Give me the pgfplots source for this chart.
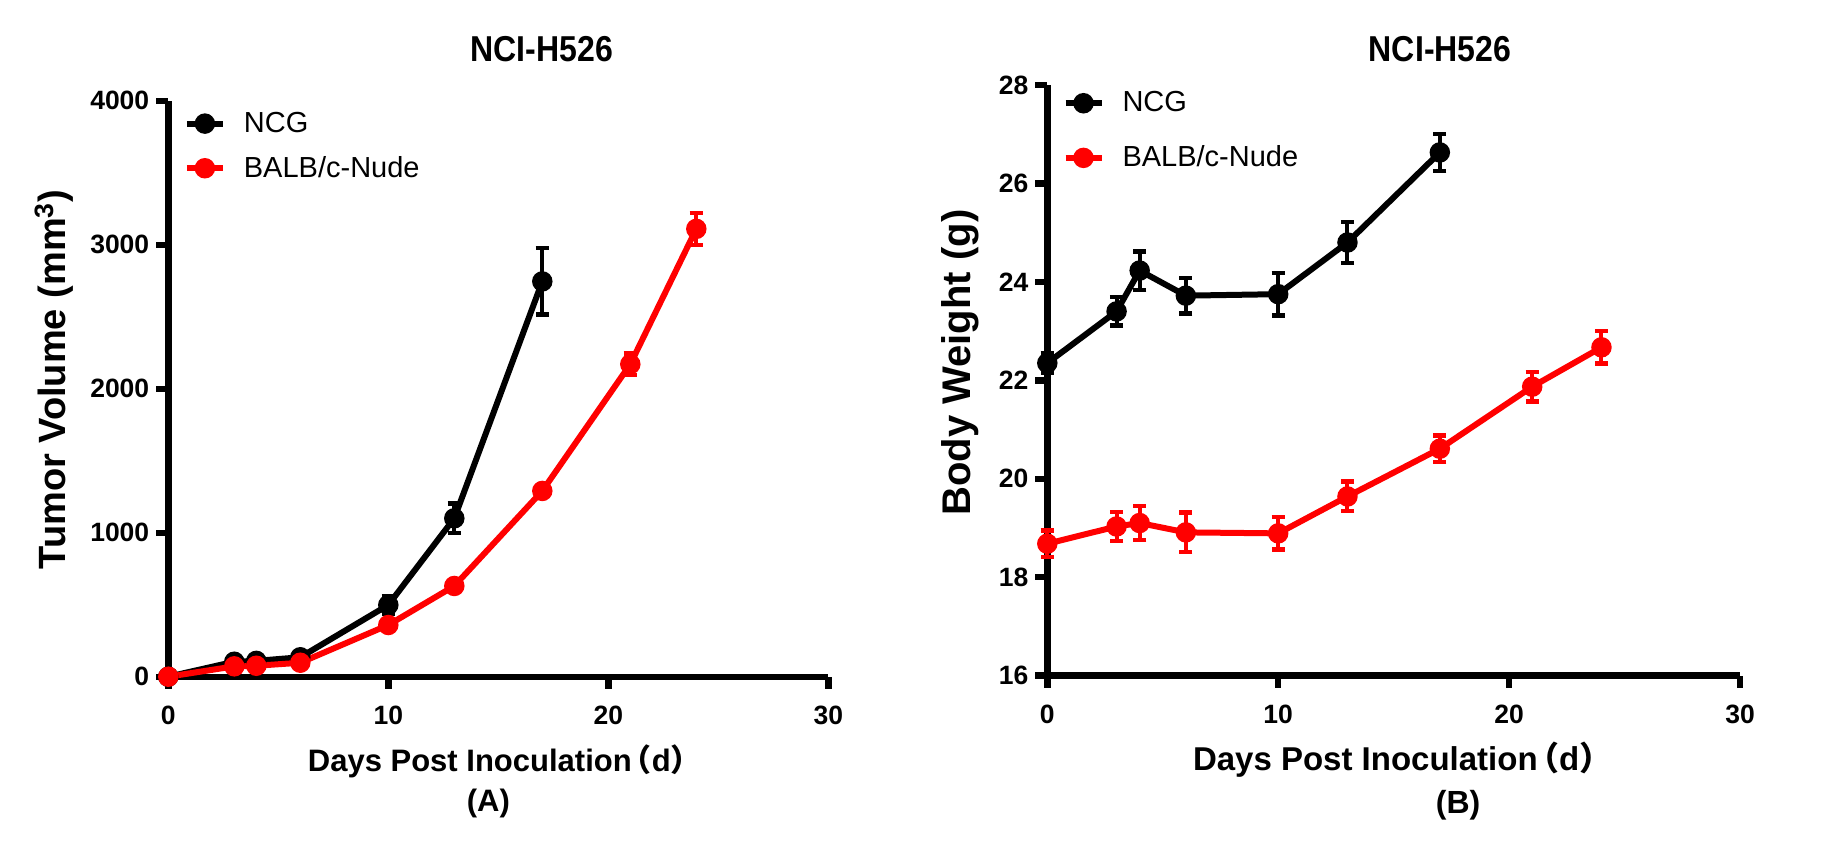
\documentclass[border=0pt]{standalone}
\usepackage{fontspec}
\setmainfont{Liberation Sans}
\newfontfamily\titlefont{Liberation Sans}[FakeStretch=0.89]
\newfontfamily\cjk{Noto Sans CJK SC}
\usepackage{pgfplots}
\pgfplotsset{compat=1.18}

\pgfplotstableread{
x y e
0 0 0
3 104 15
4 110 15
6 135 20
10 498 60
13 1100 104
17 2745 231
}\ncgvol
\pgfplotstableread{
x y e
0 0 0
3 72 10
4 76 10
6 97 12
10 359 20
13 630 25
17 1290 30
21 2170 74
24 3110 110
}\balbvol
\pgfplotstableread{
x y e
0 22.35 0.20
3 23.40 0.29
4 24.23 0.39
6 23.72 0.36
10 23.75 0.43
13 24.80 0.42
17 26.63 0.38
}\ncgbw
\pgfplotstableread{
x y e
0 18.68 0.27
3 19.03 0.30
4 19.10 0.35
6 18.91 0.40
10 18.89 0.33
13 19.64 0.30
17 20.61 0.27
21 21.87 0.30
24 22.67 0.33
}\balbbw

\pgfplotsset{
 myaxis/.style={
  scale only axis,
  axis x line=bottom, axis y line=left,
  axis line style={line width=3.2pt, -},
  every tick/.style={line width=3.2pt, black},
  tick align=outside,
  major tick length=6pt,
  xmin=0, xmax=30, xtick={0,10,20,30},
  clip=false,
  /pgf/number format/assume math mode=true,
  /pgf/number format/1000 sep={},
  tick label style={font=\fontsize{13.25}{14}\selectfont\bfseries},
  xticklabel style={yshift=-5pt},
  legend cell align=left,
  legend style={draw=none, fill=none, anchor=north west,
    font=\fontsize{14.5}{16}\selectfont},
  legend image code/.code={\draw[mark repeat=2, mark phase=2, #1] plot coordinates {(0pt,0pt) (9pt,0pt) (18pt,0pt)};},
  /tikz/every odd column/.append style={column sep=7pt},
 },
 myplot/.style={#1, line width=3pt, mark=*, mark size=3.6pt, mark options={solid, fill=#1, draw=#1},
  error bars/.cd, y dir=both, y explicit,
  error bar style={line width=2pt},
  error mark options={rotate=90, mark size=3.3pt, line width=2.2pt}},
}

\begin{document}
\begin{tikzpicture}
\path[use as bounding box] (0,0) rectangle (915.5pt,426pt);

\begin{axis}[myaxis,
  at={(84.15pt,87.65pt)}, anchor=south west,
  width=330pt, height=288pt,
  ymin=0, ymax=4000, ytick={0,1000,2000,3000,4000},
  title={\titlefont\bfseries\fontsize{18}{20}\selectfont NCI-H526},
  title style={at={(axis description cs:0.566,1)}, anchor=base, yshift=13.7pt},
  xlabel={Days Post Inoculation{\cjk\kern-0.35em （}d{\cjk ）}},
  xlabel style={font=\bfseries\fontsize{15.5}{17}\selectfont, at={(axis description cs:0.51,0)}, anchor=base, yshift=-47.2pt},
  ylabel={Tumor Volume (mm\textsuperscript{3})},
  ylabel style={font=\bfseries\fontsize{19}{21}\selectfont, at={(axis description cs:-0.173,0.516)}, anchor=center},
  legend style={at={(axis description cs:0.03,0.995)}, xshift=-5.3pt, /tikz/row sep=6.5pt},
]
\addplot[myplot=black] table[x=x, y=y, y error=e] {\ncgvol};
\addlegendentry{NCG}
\addplot[myplot=red] table[x=x, y=y, y error=e] {\balbvol};
\addlegendentry{BALB/c-Nude}
\node[font=\bfseries\fontsize{15.5}{17}\selectfont, anchor=base] at ([yshift=-67.2pt]axis description cs:0.485,0) {(A)};
\end{axis}

\begin{axis}[myaxis,
  at={(523.65pt,88.2pt)}, anchor=south west,
  width=346.35pt, height=295.3pt,
  ymin=16, ymax=28, ytick={16,18,...,28},
  title={\titlefont\bfseries\fontsize{18}{20}\selectfont NCI-H526},
  title style={at={(axis description cs:0.567,1)}, anchor=base, yshift=5.85pt},
  xlabel={Days Post Inoculation{\cjk\kern-0.35em （}d{\cjk ）}},
  xlabel style={font=\bfseries\fontsize{16.5}{18}\selectfont, at={(axis description cs:0.513,0)}, anchor=base, yshift=-47.55pt},
  ylabel={Body Weight (g)},
  ylabel style={font=\bfseries\fontsize{20}{22}\selectfont, at={(axis description cs:-0.126,0.53)}, anchor=center},
  legend style={at={(axis description cs:0.028,1.003)}, xshift=-5.3pt, /tikz/row sep=11.5pt},
]
\addplot[myplot=black] table[x=x, y=y, y error=e] {\ncgbw};
\addlegendentry{NCG}
\addplot[myplot=red] table[x=x, y=y, y error=e] {\balbbw};
\addlegendentry{BALB/c-Nude}
\node[font=\bfseries\fontsize{16}{17}\selectfont, anchor=base] at ([yshift=-68.7pt]axis description cs:0.593,0) {(B)};
\end{axis}
\end{tikzpicture}
\end{document}
